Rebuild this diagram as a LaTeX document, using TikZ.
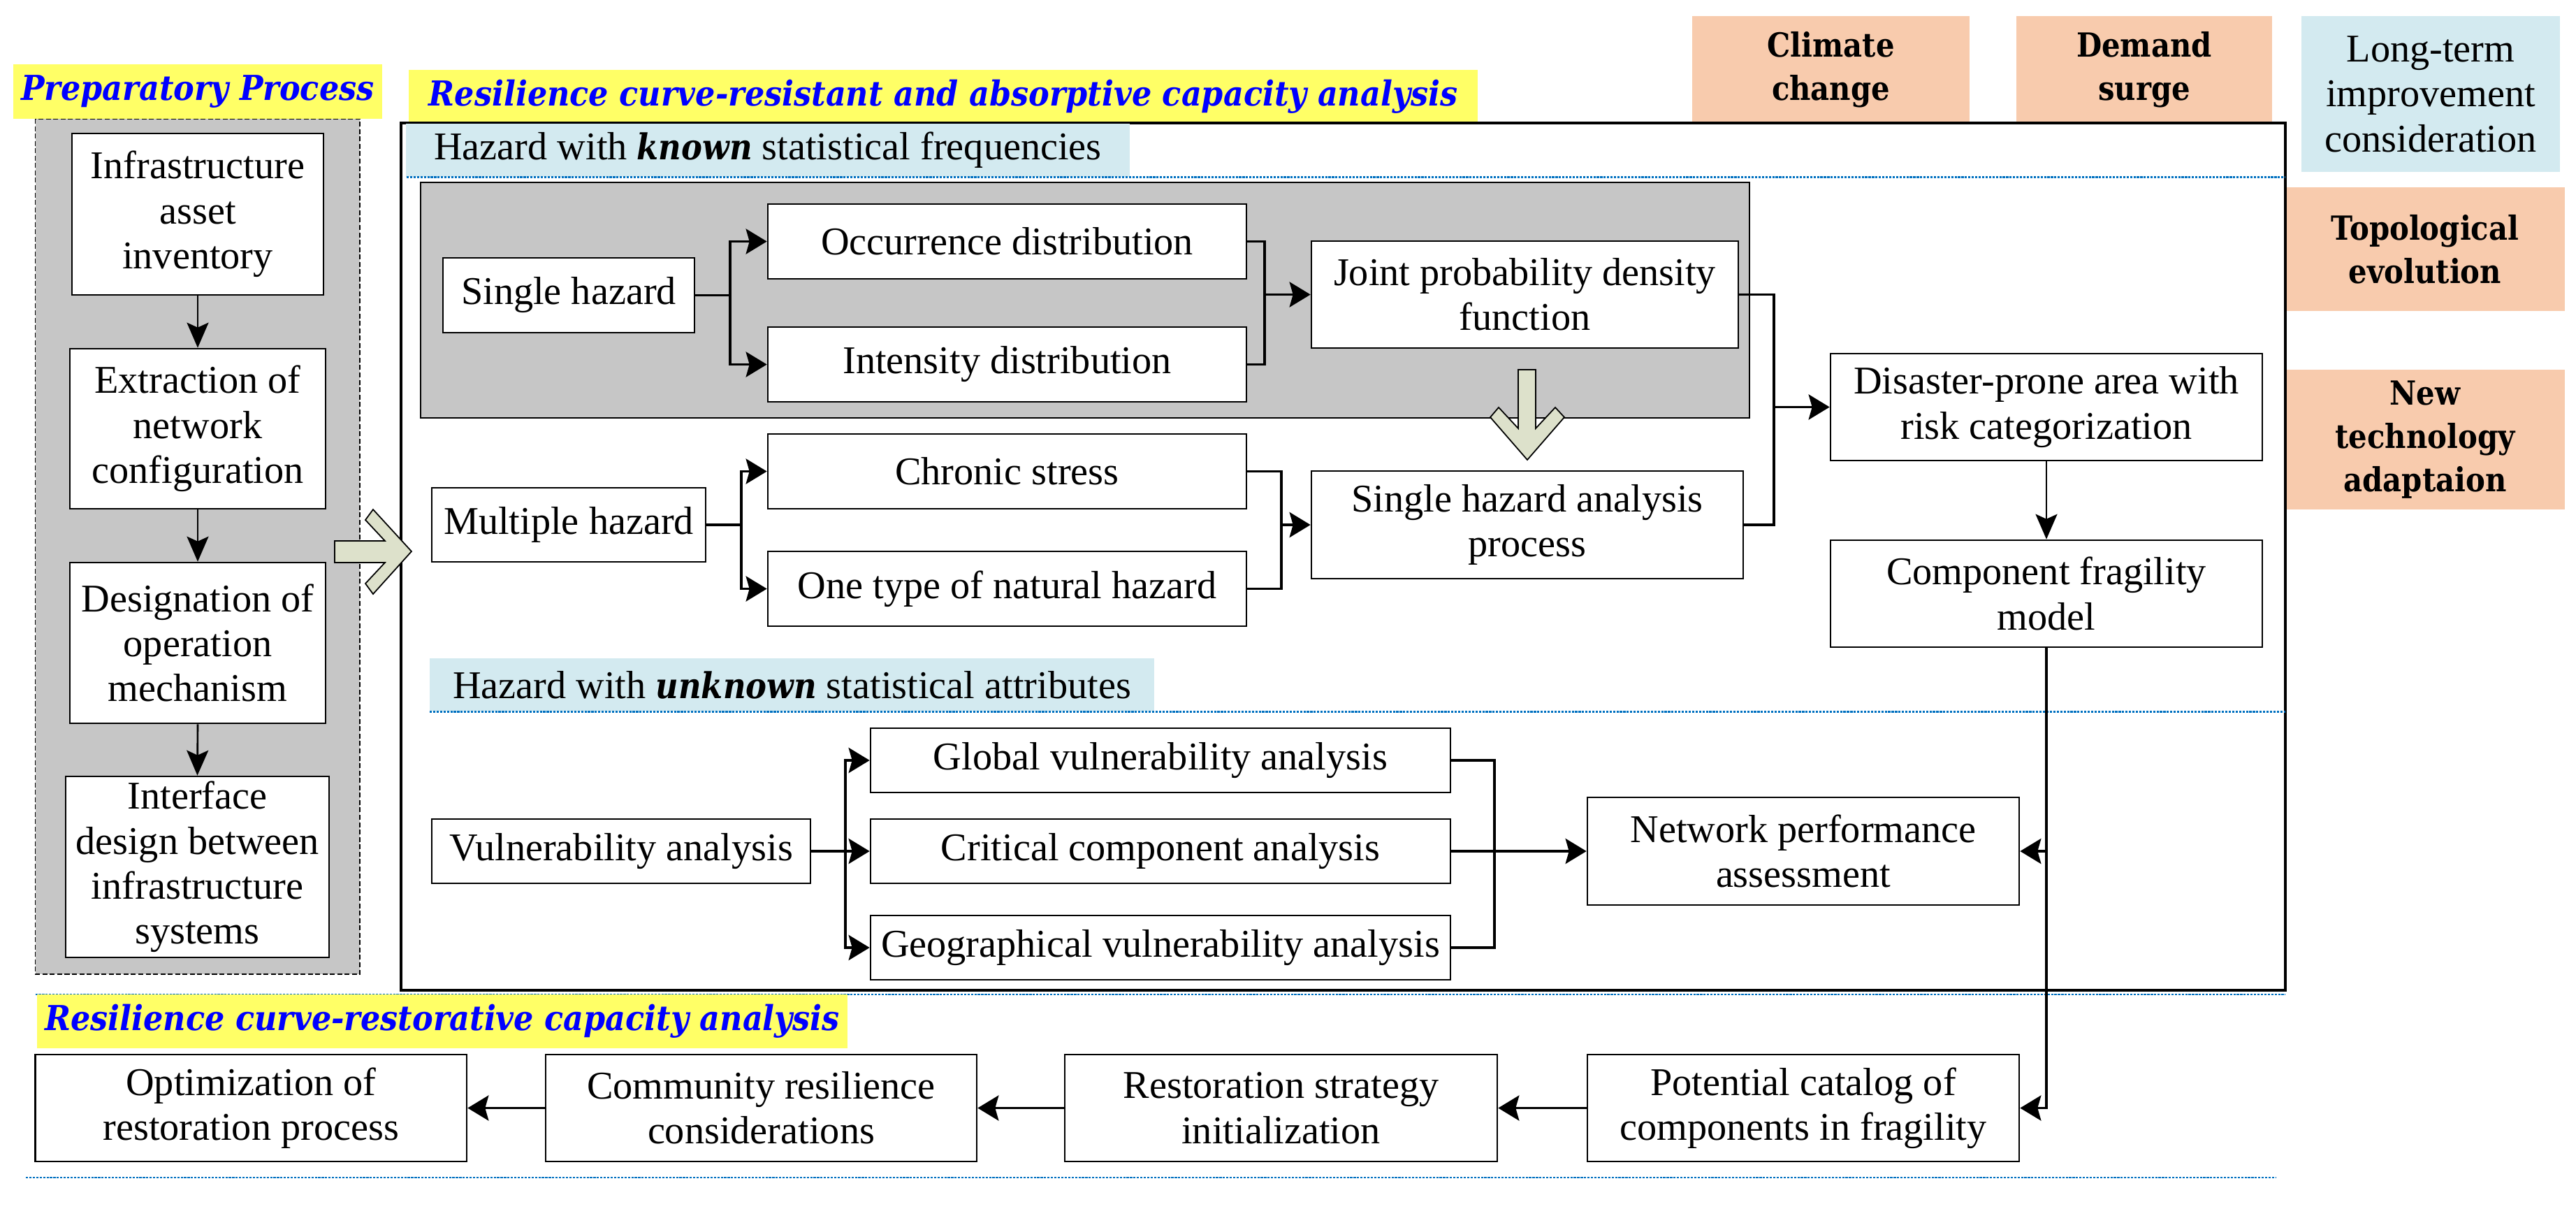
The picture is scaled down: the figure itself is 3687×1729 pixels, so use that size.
\documentclass[tikz,border=0pt]{standalone}
\usepackage{fontspec}
\setmainfont{Liberation Serif}
\newfontfamily\hdfont{DejaVu Serif}[FakeStretch=0.88]
\newfontfamily\ttlfamily{DejaVu Serif}[FakeStretch=0.905]
\usetikzlibrary{arrows.meta}
\definecolor{ttlyellow}{HTML}{FFFF66}
\definecolor{ttlblue}{HTML}{0000FF}
\definecolor{lblblue}{HTML}{D3EAF0}
\definecolor{peach}{HTML}{F8CBAD}
\definecolor{panelgray}{HTML}{C6C6C6}
\definecolor{dotblue}{HTML}{0070C0}
\definecolor{hollowfill}{HTML}{DDE1CB}
\newcommand\bodyfont{\fontsize{16}{18.3}\selectfont}
\newcommand\ttlfont{\ttlfamily\bfseries\itshape\fontsize{14}{16}\selectfont}
\newcommand\boldhd{\hdfont\bfseries\fontsize{13.5}{17.6}\selectfont}
\newcommand\kw[1]{{\hdfont\bfseries\itshape\fontsize{14.5}{16}\selectfont #1}}
\newcommand\bx[7][box]{%
  \node[#1,minimum width={(#5-#3)*0.01cm},minimum height={(#6-#4)*0.01cm}]
    (#2) at ({(#3+#5)/2},{(#4+#6)/2}) {#7};}
\begin{document}
\begin{tikzpicture}[x=0.01cm,y=-0.01cm,
  box/.style={draw=black,line width=0.75pt,fill=white,inner sep=0pt,align=center,font=\bodyfont},
  ttl/.style={fill=ttlyellow,text=ttlblue,inner sep=0pt,font=\ttlfont},
  lbl/.style={fill=lblblue,inner sep=0pt,font=\bodyfont},
  ltbox/.style={fill=lblblue,inner sep=0pt,align=center,font=\bodyfont},
  pch/.style={fill=peach,inner sep=0pt,align=center,font=\boldhd},
  wire/.style={line width=1.1pt},
  conn/.style={line width=1.1pt,-{Stealth[length=0.30cm,width=0.36cm,inset=0.05cm]}},
  thinarr/.style={line width=0.75pt,-{Stealth[length=0.36cm,width=0.31cm,inset=0.07cm]}},
  dotln/.style={dotblue,line width=0.8pt,dash pattern=on 0.9pt off 0.5pt},
  hollow/.style={draw=black,line width=0.5pt,fill=hollowfill,line join=miter}]
\useasboundingbox (0,0) rectangle (3687,1729);

% ---------- preparatory panel ----------
\draw[fill=panelgray,line width=0.4pt,dash pattern=on 2pt off 1pt] (50.5,170) rectangle (515,1394);
\bx[ttl]{prepttl}{19}{92}{547}{170}{Preparatory Process}
\bx{infra}{103}{191}{463}{422}{Infrastructure\\asset\\inventory}
\bx{extr}{100}{499}{466}{728}{Extraction of\\network\\configuration}
\bx{desig}{100}{805}{466}{1035}{Designation of\\operation\\mechanism}
\bx{iface}{94}{1111}{471}{1370}{Interface\\design between\\infrastructure\\systems}
\draw[thinarr] (infra.south) -- (extr.north);
\draw[thinarr] (extr.south) -- (desig.north);
\draw[thinarr] (desig.south) -- (iface.north);

% ---------- top labels ----------
\bx[ttl]{resttl}{585}{100}{2115}{177}{Resilience curve-resistant and absorptive capacity analysis}
\bx[pch]{climate}{2422}{23}{2819}{177}{Climate\\change}
\bx[pch]{demand}{2886}{23}{3252}{177}{Demand\\surge}
\bx[ltbox]{longterm}{3294}{23}{3664}{246}{Long-term\\improvement\\consideration}
\bx[pch]{topo}{3271}{268}{3671}{445}{Topological\\evolution}
\bx[pch]{newtech}{3271}{529}{3671}{729}{New\\technology\\adaptaion}

% ---------- main frame ----------
\draw[line width=1.1pt] (574,176) rectangle (3271,1417);
\bx[lbl]{known}{581}{177}{1617}{253}{Hazard with \kw{known} statistical frequencies}
\draw[dotln] (582,253.5) -- (3271,253.5);

% gray inner box
\draw[fill=panelgray,line width=0.6pt] (602,261) rectangle (2504,598);

\bx{single}{634}{369}{994}{476}{Single hazard}
\bx{occ}{1099}{292}{1784}{399}{Occurrence distribution}
\bx{inten}{1099}{468}{1784}{575}{Intensity distribution}
\bx{joint}{1877}{345}{2488}{498}{Joint probability density\\function}

\bx{mult}{618}{698}{1010}{804}{Multiple hazard}
\bx{chron}{1099}{621}{1784}{728}{Chronic stress}
\bx{onetype}{1099}{789}{1784}{896}{One type of natural hazard}
\bx{sha}{1877}{674}{2495}{828}{Single hazard analysis\\process}

\bx{disas}{2620}{506}{3238}{659}{Disaster-prone area with\\risk categorization}
\bx{comp}{2620}{773}{3238}{926}{Component fragility\\model}

% hollow arrows
\draw[hollow] (479,774) -- (551,774) -- (523,744) -- (534,729) -- (589,789) -- (534,850) -- (523,835) -- (551,805) -- (479,805) -- cycle;
\draw[hollow] (2173,529) -- (2198,529) -- (2198,613) -- (2226,583) -- (2239,597) -- (2186,658) -- (2133,597) -- (2145,583) -- (2173,613) -- cycle;

% connectors: single hazard
\coordinate (b1) at (1045,422.5);
\draw[wire] (single.east) -- (b1);
\draw[conn] (b1) |- (occ.west);
\draw[conn] (b1) |- (inten.west);
\coordinate (j1) at (1810,421.5);
\draw[wire] (occ.east) -| (j1);
\draw[wire] (inten.east) -| (j1);
\draw[conn] (j1) -- (joint.west);
% multiple hazard
\coordinate (b2) at (1061,751);
\draw[wire] (mult.east) -- (b2);
\draw[conn] (b2) |- (chron.west);
\draw[conn] (b2) |- (onetype.west);
\coordinate (j2) at (1834,751);
\draw[wire] (chron.east) -| (j2);
\draw[wire] (onetype.east) -| (j2);
\draw[conn] (j2) -- (sha.west);
% to disaster
\coordinate (d1) at (2539,582.5);
\draw[wire] (joint.east) -| (d1);
\draw[wire] (sha.east) -| (d1);
\draw[conn] (d1) -- (disas.west);
\draw[thinarr] (disas.south) -- (comp.north);

% unknown section
\bx[lbl]{unknown}{615}{942}{1652}{1018}{Hazard with \kw{unknown} statistical attributes}
\draw[dotln] (615,1018.5) -- (3271,1018.5);

\bx{vuln}{618}{1172}{1160}{1264}{Vulnerability analysis}
\bx{glob}{1246}{1042}{2076}{1134}{Global vulnerability analysis}
\bx{crit}{1246}{1172}{2076}{1264}{Critical component analysis}
\bx{geo}{1246}{1310}{2076}{1402}{Geographical vulnerability analysis}
\bx{net}{2272}{1141}{2890}{1295}{Network performance\\assessment}

\coordinate (b3) at (1210,1218);
\draw[wire] (vuln.east) -- (b3);
\draw[conn] (b3) |- (glob.west);
\draw[conn] (b3) -- (crit.west);
\draw[conn] (b3) |- (geo.west);
\coordinate (j3) at (2139,1218);
\draw[wire] (glob.east) -| (j3);
\draw[wire] (geo.east) -| (j3);
\draw[conn] (crit.east) -- (net.west);

% ---------- restorative ----------
\draw[dotln] (50.5,1423) -- (3271,1423);
\bx[ttl]{restttl}{53}{1423}{1213}{1500}{Resilience curve-restorative capacity analysis}
\bx{opt}{50.5}{1509}{668}{1662}{Optimization of\\restoration process}
\bx{comm}{781}{1509}{1398}{1662}{Community resilience\\considerations}
\bx{rest}{1524}{1509}{2143}{1662}{Restoration strategy\\initialization}
\bx{pot}{2272}{1509}{2890}{1662}{Potential catalog of\\components in fragility}
\draw[dotln] (37,1685) -- (3258,1685);

\draw[conn] (comp.south) |- (pot.east);
\draw[conn] (comp.south |- net.east) -- (net.east);
\draw[conn] (pot.west) -- (rest.east);
\draw[conn] (rest.west) -- (comm.east);
\draw[conn] (comm.west) -- (opt.east);
\end{tikzpicture}
\end{document}
